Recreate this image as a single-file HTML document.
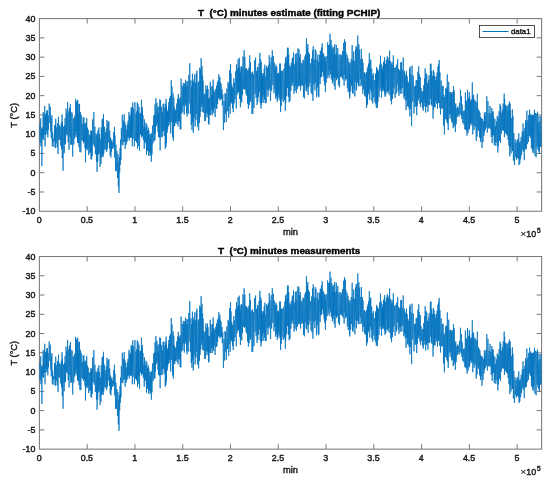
<!DOCTYPE html>
<html><head><meta charset="utf-8"><title>Temperature plots</title>
<style>
html,body{margin:0;padding:0;background:#fff;}
svg{display:block;}
text{font-family:"Liberation Sans",Arial,Helvetica,sans-serif;fill:#1a1a1a;}
.tk{stroke:#7a7a7a;stroke-width:1;}
.yl{font-size:8.2px;text-anchor:end;}
.xl{font-size:8.2px;text-anchor:middle;}
.lab{font-size:9.3px;text-anchor:middle;}
.ex{font-size:8.9px;}
.tt{font-size:9.9px;font-weight:bold;text-anchor:middle;fill:#000;}
.lg{font-size:7.8px;}
text{stroke:#1a1a1a;stroke-width:0.42px;}
.tt{stroke:#000;}
</style></head><body>
<svg width="550" height="481" viewBox="0 0 550 481">
<rect width="550" height="481" fill="#fff"/>
<rect x="39.4" y="18.6" width="502.20000000000005" height="192.65" fill="none" stroke="#7a7a7a" stroke-width="1.05"/>
<text transform="translate(35.4,214.25) scale(1.08,1)" class="yl">-10</text>
<line x1="39.4" y1="191.98" x2="44.4" y2="191.98" class="tk"/>
<line x1="541.6" y1="191.98" x2="536.6" y2="191.98" class="tk"/>
<text transform="translate(35.4,194.98) scale(1.08,1)" class="yl">-5</text>
<line x1="39.4" y1="172.72" x2="44.4" y2="172.72" class="tk"/>
<line x1="541.6" y1="172.72" x2="536.6" y2="172.72" class="tk"/>
<text transform="translate(35.4,175.72) scale(1.08,1)" class="yl">0</text>
<line x1="39.4" y1="153.45" x2="44.4" y2="153.45" class="tk"/>
<line x1="541.6" y1="153.45" x2="536.6" y2="153.45" class="tk"/>
<text transform="translate(35.4,156.45) scale(1.08,1)" class="yl">5</text>
<line x1="39.4" y1="134.19" x2="44.4" y2="134.19" class="tk"/>
<line x1="541.6" y1="134.19" x2="536.6" y2="134.19" class="tk"/>
<text transform="translate(35.4,137.19) scale(1.08,1)" class="yl">10</text>
<line x1="39.4" y1="114.93" x2="44.4" y2="114.93" class="tk"/>
<line x1="541.6" y1="114.93" x2="536.6" y2="114.93" class="tk"/>
<text transform="translate(35.4,117.93) scale(1.08,1)" class="yl">15</text>
<line x1="39.4" y1="95.66" x2="44.4" y2="95.66" class="tk"/>
<line x1="541.6" y1="95.66" x2="536.6" y2="95.66" class="tk"/>
<text transform="translate(35.4,98.66) scale(1.08,1)" class="yl">20</text>
<line x1="39.4" y1="76.40" x2="44.4" y2="76.40" class="tk"/>
<line x1="541.6" y1="76.40" x2="536.6" y2="76.40" class="tk"/>
<text transform="translate(35.4,79.40) scale(1.08,1)" class="yl">25</text>
<line x1="39.4" y1="57.13" x2="44.4" y2="57.13" class="tk"/>
<line x1="541.6" y1="57.13" x2="536.6" y2="57.13" class="tk"/>
<text transform="translate(35.4,60.13) scale(1.08,1)" class="yl">30</text>
<line x1="39.4" y1="37.87" x2="44.4" y2="37.87" class="tk"/>
<line x1="541.6" y1="37.87" x2="536.6" y2="37.87" class="tk"/>
<text transform="translate(35.4,40.87) scale(1.08,1)" class="yl">35</text>
<text transform="translate(35.4,21.60) scale(1.08,1)" class="yl">40</text>
<text transform="translate(39.10,222.75) scale(1.08,1)" class="xl">0</text>
<line x1="87.17" y1="211.25" x2="87.17" y2="206.25" class="tk"/>
<line x1="87.17" y1="18.6" x2="87.17" y2="23.6" class="tk"/>
<text transform="translate(86.87,222.75) scale(1.08,1)" class="xl">0.5</text>
<line x1="134.95" y1="211.25" x2="134.95" y2="206.25" class="tk"/>
<line x1="134.95" y1="18.6" x2="134.95" y2="23.6" class="tk"/>
<text transform="translate(134.65,222.75) scale(1.08,1)" class="xl">1</text>
<line x1="182.72" y1="211.25" x2="182.72" y2="206.25" class="tk"/>
<line x1="182.72" y1="18.6" x2="182.72" y2="23.6" class="tk"/>
<text transform="translate(182.42,222.75) scale(1.08,1)" class="xl">1.5</text>
<line x1="230.50" y1="211.25" x2="230.50" y2="206.25" class="tk"/>
<line x1="230.50" y1="18.6" x2="230.50" y2="23.6" class="tk"/>
<text transform="translate(230.20,222.75) scale(1.08,1)" class="xl">2</text>
<line x1="278.27" y1="211.25" x2="278.27" y2="206.25" class="tk"/>
<line x1="278.27" y1="18.6" x2="278.27" y2="23.6" class="tk"/>
<text transform="translate(277.97,222.75) scale(1.08,1)" class="xl">2.5</text>
<line x1="326.04" y1="211.25" x2="326.04" y2="206.25" class="tk"/>
<line x1="326.04" y1="18.6" x2="326.04" y2="23.6" class="tk"/>
<text transform="translate(325.74,222.75) scale(1.08,1)" class="xl">3</text>
<line x1="373.82" y1="211.25" x2="373.82" y2="206.25" class="tk"/>
<line x1="373.82" y1="18.6" x2="373.82" y2="23.6" class="tk"/>
<text transform="translate(373.52,222.75) scale(1.08,1)" class="xl">3.5</text>
<line x1="421.59" y1="211.25" x2="421.59" y2="206.25" class="tk"/>
<line x1="421.59" y1="18.6" x2="421.59" y2="23.6" class="tk"/>
<text transform="translate(421.29,222.75) scale(1.08,1)" class="xl">4</text>
<line x1="469.37" y1="211.25" x2="469.37" y2="206.25" class="tk"/>
<line x1="469.37" y1="18.6" x2="469.37" y2="23.6" class="tk"/>
<text transform="translate(469.07,222.75) scale(1.08,1)" class="xl">4.5</text>
<line x1="517.14" y1="211.25" x2="517.14" y2="206.25" class="tk"/>
<line x1="517.14" y1="18.6" x2="517.14" y2="23.6" class="tk"/>
<text transform="translate(516.84,222.75) scale(1.08,1)" class="xl">5</text>
<path d="M39.70,124.26 40.11,142.45 40.74,118.31 40.96,146.32 41.59,128.64 41.89,166.02 42.25,127.30 42.82,139.05 43.17,112.22 43.60,139.78 43.75,116.88 44.29,135.00 44.71,105.91 45.02,146.40 45.57,114.42 45.87,134.63 46.24,113.17 46.45,130.72 46.80,110.71 47.05,133.71 47.32,110.20 47.85,137.33 48.14,115.22 48.53,129.61 49.18,103.64 49.82,123.04 50.34,106.72 50.76,131.78 51.04,117.76 51.27,138.31 51.91,115.12 52.32,146.42 52.52,132.34 52.98,141.97 53.53,138.58 53.99,146.96 54.60,125.51 54.76,140.87 55.18,125.23 55.56,148.14 55.73,118.70 56.20,143.44 56.79,127.41 57.24,147.49 57.51,123.11 58.09,154.04 58.49,116.84 58.90,139.59 59.43,125.44 59.65,139.75 60.21,126.54 60.71,145.67 61.26,123.22 61.50,149.38 62.05,114.33 62.29,158.20 62.48,121.39 63.06,170.81 63.65,126.42 64.24,153.18 64.63,125.04 64.91,143.93 65.06,118.30 65.53,144.24 66.05,108.61 66.62,134.09 66.91,113.63 67.16,135.40 67.63,102.08 68.19,142.20 68.83,111.07 69.05,149.62 69.44,107.87 70.05,137.05 70.41,104.03 70.85,144.89 71.00,111.88 71.49,144.36 72.11,112.64 72.68,156.66 73.28,118.83 73.77,144.46 74.03,117.82 74.57,138.52 74.82,115.65 75.40,135.09 75.57,98.88 76.14,137.31 76.36,102.13 76.70,131.39 77.00,100.68 77.50,142.74 77.74,99.86 78.08,140.71 78.22,113.43 78.50,143.12 78.86,104.22 79.06,147.19 79.52,103.83 79.86,151.92 80.38,111.96 80.86,152.33 81.22,114.84 81.81,140.30 82.28,123.86 82.84,141.10 83.16,117.41 83.59,143.10 83.83,117.28 84.49,141.33 84.75,124.34 85.03,147.94 85.20,122.63 85.48,162.58 86.01,123.92 86.52,149.06 86.72,118.03 87.06,150.31 87.42,127.76 87.90,148.19 88.28,129.72 88.73,155.12 89.30,134.56 89.82,153.09 90.15,135.30 90.52,151.87 90.86,130.45 91.05,159.37 91.30,130.68 91.59,159.37 91.89,132.47 92.19,155.96 92.63,119.42 93.28,144.59 93.82,112.03 94.37,146.78 94.91,126.81 95.36,154.13 95.97,133.21 96.47,161.90 96.87,135.49 97.05,171.79 97.45,133.96 97.70,161.55 97.91,130.36 98.31,154.59 98.86,127.43 99.15,153.31 99.69,134.09 100.10,166.96 100.32,139.38 100.96,163.94 101.31,127.47 101.61,157.24 102.19,119.23 102.39,155.59 102.91,118.47 103.15,157.12 103.49,113.94 103.75,153.58 104.33,126.74 104.67,149.20 105.32,132.36 105.79,150.28 106.29,128.59 106.70,151.99 107.00,119.93 107.35,148.93 107.97,122.55 108.22,142.59 108.87,121.16 109.41,148.07 109.73,130.53 110.21,155.59 110.55,137.63 110.88,157.49 111.29,140.97 111.43,151.68 111.83,139.60 112.48,148.89 112.77,142.63 113.29,146.20 113.66,132.09 113.91,148.31 114.52,126.93 114.67,157.43 114.97,135.53 115.63,171.19 115.91,144.77 116.49,170.58 116.94,151.13 117.50,178.03 117.97,154.18 118.30,186.60 118.83,161.60 118.99,192.89 119.36,157.20 119.69,172.41 120.08,148.05 120.29,164.87 120.54,139.52 120.98,159.80 121.32,128.18 121.87,144.69 122.32,114.90 122.91,145.27 123.43,120.63 123.89,142.09 124.18,114.17 124.72,141.55 124.99,122.53 125.17,148.88 125.81,125.12 126.23,144.72 126.78,129.63 127.19,141.65 127.65,124.46 127.81,137.91 128.04,120.86 128.53,137.48 128.97,111.97 129.19,140.48 129.83,114.76 130.05,137.46 130.45,116.19 130.67,137.94 131.18,107.57 131.47,137.41 131.68,109.61 131.84,133.76 132.07,107.08 132.31,146.34 132.73,102.51 133.10,138.89 133.74,108.51 134.38,146.36 134.93,102.17 135.42,140.95 136.00,113.88 136.63,142.58 136.78,111.38 136.98,141.59 137.31,102.47 137.50,148.91 137.95,103.79 138.23,146.23 138.50,112.25 138.79,138.10 138.98,106.87 139.51,150.92 139.99,113.68 140.44,134.50 140.60,112.94 140.96,134.57 141.46,99.82 141.68,137.48 142.02,110.55 142.17,135.53 142.35,107.25 142.61,136.10 142.96,115.11 143.34,140.05 143.94,126.48 144.25,148.67 144.40,119.41 144.97,143.17 145.14,127.49 145.33,141.97 145.97,122.75 146.50,154.81 146.82,124.61 147.03,151.15 147.37,129.99 147.68,150.54 148.28,127.54 148.64,155.98 148.82,130.75 149.44,152.32 149.90,134.00 150.11,155.77 150.30,138.45 150.69,153.84 150.87,134.08 151.34,161.86 151.80,132.87 151.96,154.51 152.52,125.59 153.07,143.25 153.69,115.50 154.17,141.11 154.67,114.63 154.90,140.36 155.05,104.38 155.23,133.70 155.87,98.27 156.34,126.14 156.98,102.88 157.30,123.75 157.83,107.36 158.00,131.98 158.23,113.65 158.51,137.01 158.94,106.37 159.37,137.66 159.77,99.37 160.13,150.32 160.57,100.23 161.21,137.20 161.59,107.10 162.17,137.07 162.34,112.55 162.68,131.55 163.11,104.23 163.57,130.60 163.84,103.60 164.19,136.02 164.82,107.80 165.30,148.84 165.74,103.86 165.92,147.04 166.08,98.81 166.33,143.37 166.54,106.75 167.20,132.70 167.34,110.54 167.67,129.05 167.84,112.20 168.31,126.33 168.47,106.50 168.65,121.68 168.83,102.07 169.11,124.82 169.55,98.17 170.11,121.79 170.39,95.98 170.68,133.67 171.25,80.14 171.77,122.08 171.98,86.57 172.54,137.37 173.11,93.59 173.34,140.63 173.81,97.71 174.05,125.81 174.32,107.43 174.72,126.20 175.13,109.51 175.52,122.98 175.94,109.86 176.19,121.68 176.73,103.45 177.02,124.03 177.63,98.72 178.04,126.36 178.34,93.96 178.57,121.00 178.96,98.21 179.30,121.45 179.76,99.85 180.16,129.10 180.32,97.20 180.89,129.60 181.06,78.57 181.63,113.60 182.19,85.98 182.81,112.36 183.30,82.96 183.52,105.54 183.89,86.22 184.26,114.72 184.73,83.32 185.07,105.93 185.56,79.77 185.81,103.72 186.13,81.49 186.55,113.19 186.91,86.05 187.12,116.48 187.76,81.20 188.26,113.62 188.83,75.06 189.16,103.53 189.79,63.19 190.35,113.98 191.00,80.46 191.24,124.95 191.63,86.64 191.97,129.91 192.43,73.75 192.70,121.95 192.89,79.17 193.28,132.76 193.75,81.50 194.09,117.62 194.75,74.43 195.10,126.51 195.40,82.57 195.96,119.86 196.34,73.39 196.62,113.73 196.91,70.65 197.54,126.58 198.18,82.45 198.66,130.47 198.95,81.29 199.46,122.88 199.71,67.79 200.02,117.14 200.44,69.49 200.79,111.68 201.11,58.31 201.76,106.95 201.98,65.99 202.44,104.08 202.60,75.53 202.79,111.97 203.04,80.70 203.70,112.72 204.21,93.99 204.80,121.15 204.97,93.66 205.46,120.74 205.83,85.46 206.19,113.08 206.70,89.41 207.00,117.27 207.41,85.62 207.68,113.72 208.02,89.18 208.44,123.51 208.66,98.62 208.95,124.57 209.31,97.96 209.69,114.97 210.25,81.81 210.72,115.24 211.16,86.40 211.75,110.52 211.99,95.21 212.18,115.16 212.53,86.58 212.74,109.83 213.17,79.66 213.61,113.15 213.82,90.33 214.33,108.13 214.76,91.74 215.12,117.10 215.73,88.86 216.32,108.94 216.57,85.62 216.80,108.49 217.42,82.14 217.64,103.98 218.17,80.28 218.48,98.67 218.80,74.30 219.23,97.88 219.85,76.87 219.99,100.39 220.22,81.86 220.73,99.20 221.08,83.81 221.37,98.90 222.01,89.09 222.29,105.29 222.80,94.40 223.44,130.11 223.98,101.11 224.48,122.67 225.00,93.16 225.56,113.70 225.84,94.04 226.31,122.00 226.86,88.50 227.47,111.14 228.08,81.94 228.69,117.83 228.88,83.34 229.21,106.01 229.59,70.32 230.19,113.83 230.55,64.22 230.83,103.04 230.98,73.33 231.27,101.56 231.82,84.38 231.97,103.67 232.19,87.14 232.49,108.26 232.91,87.95 233.24,112.18 233.84,78.28 234.09,103.32 234.52,82.50 235.06,99.57 235.69,71.32 236.28,108.54 236.49,64.40 237.04,94.99 237.53,68.72 237.89,91.98 238.05,59.26 238.27,92.80 238.80,67.31 238.99,89.81 239.29,57.79 239.56,98.95 240.09,67.85 240.42,107.14 240.60,72.46 240.93,100.05 241.24,65.98 241.76,102.50 242.06,66.77 242.56,95.10 242.98,56.44 243.59,88.79 244.11,50.35 244.46,89.78 244.85,56.95 245.24,88.81 245.83,68.08 246.04,93.77 246.40,68.31 246.82,95.88 247.19,69.78 247.64,103.67 248.04,70.94 248.39,108.78 248.89,67.75 249.20,105.27 249.66,55.32 250.18,101.83 250.38,62.11 250.69,101.11 251.33,72.57 251.97,113.97 252.62,71.60 252.79,113.84 253.36,74.20 253.98,108.02 254.59,60.32 255.10,93.84 255.59,57.64 256.11,97.89 256.55,70.82 257.10,105.03 257.50,67.08 257.76,101.75 257.94,67.52 258.56,96.88 259.09,63.29 259.32,91.99 259.89,52.92 260.19,102.72 260.66,59.28 260.98,108.53 261.23,61.97 261.46,104.90 261.64,73.48 261.82,102.63 262.00,73.36 262.18,97.84 262.76,76.59 263.17,102.87 263.37,73.28 263.78,95.06 264.21,68.38 264.61,99.69 264.85,64.68 265.22,103.24 265.81,76.67 266.15,102.97 266.55,66.33 267.18,89.79 267.44,67.62 267.96,96.60 268.35,65.03 268.90,90.64 269.22,55.16 269.65,88.34 269.98,62.54 270.57,101.07 271.18,57.31 271.65,90.68 272.30,50.25 272.82,85.09 273.39,55.86 274.00,93.38 274.28,62.64 274.93,89.09 275.28,67.48 275.68,98.84 275.91,64.72 276.48,96.45 276.79,66.82 277.29,101.85 277.54,73.36 277.87,99.78 278.21,74.92 278.47,93.90 278.63,72.82 279.17,97.79 279.80,63.57 280.06,100.56 280.28,63.57 280.60,112.13 280.79,70.48 281.27,105.85 281.60,71.03 282.03,99.24 282.64,70.78 283.23,101.94 283.85,68.82 284.47,100.20 284.92,63.51 285.32,110.84 285.48,57.35 285.68,103.04 286.09,59.69 286.67,96.25 287.04,55.63 287.18,87.84 287.43,47.76 287.97,88.01 288.19,47.76 288.43,96.89 288.72,54.31 289.18,102.38 289.75,65.39 290.01,100.72 290.46,66.89 290.87,90.68 291.24,62.96 291.69,85.28 292.25,58.62 292.50,82.34 292.90,57.40 293.09,86.03 293.50,52.48 294.05,93.71 294.71,64.47 295.10,90.76 295.39,53.90 295.83,86.46 296.17,61.83 296.37,93.03 296.78,53.25 297.33,89.13 297.94,48.38 298.59,86.22 298.92,49.27 299.19,86.38 299.39,57.11 299.75,83.73 300.31,54.09 300.57,90.54 301.16,62.80 301.67,85.60 301.91,63.66 302.38,85.40 302.95,59.89 303.57,97.02 303.80,60.24 304.36,98.41 304.91,56.56 305.17,84.31 305.47,54.28 306.10,90.54 306.43,38.44 306.72,91.49 307.24,47.98 307.45,87.27 307.84,44.06 308.16,95.00 308.59,52.30 309.04,86.52 309.51,54.08 309.88,82.82 310.48,63.45 311.05,92.57 311.68,58.50 312.05,94.45 312.57,50.41 312.93,100.85 313.22,46.38 313.70,84.37 314.33,59.62 314.89,90.27 315.18,49.11 315.44,82.73 315.98,51.02 316.48,97.34 317.07,59.61 317.29,87.33 317.88,54.51 318.24,95.84 318.52,61.91 318.84,97.25 319.50,54.90 320.14,84.14 320.32,50.76 320.62,77.77 321.14,51.51 321.30,76.42 321.45,47.65 321.62,76.38 322.21,43.39 322.52,71.63 322.83,52.57 323.38,76.45 323.69,54.05 324.21,81.57 324.54,56.66 324.84,85.22 325.18,56.62 325.41,91.92 325.59,61.00 326.18,82.56 326.77,56.26 327.15,78.41 327.65,42.36 328.24,75.12 328.58,45.17 329.09,77.68 329.62,44.55 329.80,70.92 330.01,33.71 330.54,74.50 331.05,39.89 331.29,79.26 331.86,45.52 332.41,83.42 332.73,48.34 333.04,81.07 333.24,53.39 333.61,77.28 333.81,47.11 334.23,85.83 334.70,44.11 335.14,89.79 335.32,54.33 335.78,77.53 336.31,44.83 336.53,80.15 336.98,53.28 337.54,78.25 337.78,47.99 338.40,85.32 339.04,54.67 339.55,87.27 340.15,54.28 340.43,76.83 340.91,57.11 341.53,76.45 341.70,54.83 342.26,78.06 342.53,51.32 343.08,79.64 343.56,42.86 344.12,85.73 344.46,39.26 344.84,74.70 345.46,41.75 345.64,80.53 345.86,51.93 346.50,78.97 347.12,54.83 347.33,88.32 347.98,58.02 348.26,92.12 348.86,61.68 349.47,96.12 349.62,64.72 349.77,98.47 350.08,62.72 350.70,91.40 351.26,59.23 351.60,86.06 352.18,44.99 352.48,92.55 352.80,60.08 353.04,93.97 353.68,51.59 354.24,89.34 354.62,61.00 354.90,96.35 355.54,49.63 355.89,81.90 356.14,45.92 356.50,90.35 357.01,47.75 357.55,83.14 357.75,35.55 358.38,86.11 358.87,44.35 359.04,86.26 359.62,49.71 360.26,79.37 360.84,58.93 360.98,86.23 361.37,49.10 361.82,85.11 362.42,59.12 362.82,93.81 363.00,62.61 363.63,89.11 364.26,72.10 364.65,95.59 364.82,73.32 365.40,96.70 365.92,73.75 366.57,107.98 366.71,72.03 367.08,105.31 367.37,68.28 367.56,103.51 368.08,66.25 368.40,91.89 368.56,63.53 368.77,94.30 369.33,53.12 369.79,99.64 370.04,61.21 370.54,89.10 370.75,59.70 371.24,92.41 371.72,68.67 371.86,100.68 372.27,75.28 372.78,103.53 373.32,73.30 373.83,97.52 374.43,80.14 374.96,102.23 375.58,73.47 375.93,104.51 376.09,74.81 376.33,107.77 376.62,67.02 376.78,99.51 376.97,70.89 377.38,108.12 377.65,68.88 377.94,102.24 378.47,70.91 379.05,97.04 379.64,64.73 379.97,88.83 380.48,55.69 381.07,91.12 381.29,63.68 381.53,97.89 382.01,68.63 382.28,91.14 382.52,70.41 382.86,87.19 383.00,66.10 383.37,90.46 383.54,61.80 383.80,87.75 384.06,62.47 384.37,92.66 384.57,57.25 384.96,96.84 385.46,63.87 385.77,95.24 386.39,59.67 386.98,92.11 387.28,56.27 387.44,91.27 387.98,57.72 388.25,93.64 388.56,60.40 389.00,90.06 389.66,50.63 389.95,95.30 390.34,60.89 390.80,100.86 391.30,64.53 391.55,104.27 392.00,61.94 392.42,99.18 392.90,64.99 393.10,94.23 393.31,55.34 393.96,88.22 394.52,67.94 395.10,97.86 395.72,66.92 396.36,93.70 396.70,64.58 397.24,84.57 397.71,59.16 398.14,91.63 398.64,68.77 398.94,95.86 399.53,70.28 399.88,89.24 400.10,71.05 400.24,93.88 400.72,62.30 400.98,88.67 401.61,62.16 401.86,93.64 402.16,69.77 402.81,87.88 403.22,57.50 403.84,98.15 404.39,70.82 404.59,95.77 404.84,73.52 405.18,100.39 405.78,75.48 406.09,110.03 406.48,70.80 406.87,99.97 407.17,76.39 407.72,106.07 407.89,81.26 408.15,106.93 408.72,82.95 409.18,109.35 409.59,68.69 409.92,116.48 410.13,66.65 410.50,108.87 411.16,74.65 411.61,126.21 412.05,65.74 412.70,101.57 413.30,75.61 413.96,113.44 414.60,86.41 415.08,106.77 415.38,85.59 415.85,106.50 416.17,80.08 416.73,115.21 416.94,79.96 417.32,105.91 417.90,71.77 418.28,100.50 418.73,66.32 418.92,97.84 419.21,74.28 419.84,103.56 420.33,77.22 420.66,106.85 421.06,88.18 421.61,102.66 422.16,91.55 422.73,108.17 423.02,90.93 423.28,110.76 423.75,85.17 424.17,102.52 424.60,78.24 424.85,106.65 425.16,68.43 425.69,112.60 426.02,73.27 426.55,106.99 426.72,74.52 427.35,105.23 427.60,83.08 427.99,111.79 428.61,79.83 428.88,105.04 429.14,75.36 429.79,104.75 430.40,63.81 430.81,98.88 430.99,63.81 431.44,104.21 431.71,71.03 431.96,105.96 432.59,76.03 433.05,118.68 433.42,70.01 433.59,109.45 433.93,72.25 434.52,106.91 434.81,75.97 435.12,107.48 435.58,80.18 435.85,100.82 436.28,76.66 436.82,103.75 437.11,72.70 437.49,108.75 437.93,66.64 438.26,102.88 438.52,64.49 438.72,102.97 439.15,59.98 439.78,107.88 439.93,72.19 440.52,114.56 441.16,80.41 441.58,108.28 442.22,85.98 442.73,108.50 443.15,85.86 443.53,125.44 443.92,95.03 444.41,134.35 444.67,97.01 445.19,118.86 445.58,88.47 446.07,119.59 446.70,87.55 446.96,122.16 447.31,74.47 447.60,123.48 447.76,89.62 448.23,130.05 448.69,81.88 449.35,114.50 449.81,91.96 450.15,118.90 450.76,92.05 450.91,113.60 451.21,94.09 451.74,122.55 451.96,92.49 452.29,121.80 452.87,92.11 453.19,128.18 453.46,86.32 454.06,126.47 454.24,90.42 454.82,124.53 455.13,105.05 455.38,132.08 455.77,103.47 456.16,124.19 456.80,108.31 457.33,117.17 457.71,106.50 458.14,114.87 458.45,108.05 459.10,116.59 459.44,102.96 460.04,114.01 460.52,89.84 461.14,115.63 461.46,96.40 461.82,118.94 462.15,104.61 462.72,123.02 463.36,110.95 463.93,124.60 464.30,110.57 464.87,129.29 465.39,92.55 465.80,129.62 466.04,100.36 466.30,130.52 466.81,101.10 467.05,135.69 467.48,89.99 468.04,132.96 468.52,98.31 468.98,129.48 469.25,92.04 469.45,128.84 469.61,96.12 469.78,126.73 470.04,99.65 470.47,123.55 470.83,101.73 471.07,121.69 471.37,99.59 471.75,125.08 472.31,82.35 472.79,134.38 472.95,95.92 473.34,125.15 473.58,94.66 474.16,129.92 474.76,99.77 475.19,126.90 475.71,101.31 476.21,140.70 476.77,102.44 477.06,136.69 477.32,93.77 477.85,129.57 478.48,109.30 478.74,130.96 479.18,110.89 479.60,137.48 479.94,112.70 480.47,142.10 480.67,117.09 481.01,138.53 481.37,118.37 482.01,147.82 482.50,118.91 483.01,142.09 483.67,121.01 483.93,135.79 484.38,112.45 484.58,131.97 484.81,115.73 485.31,129.95 485.88,112.16 486.35,127.76 486.79,96.17 487.34,132.64 487.98,101.12 488.60,128.46 489.16,113.02 489.52,127.69 490.06,105.94 490.32,129.18 490.93,113.64 491.22,137.03 491.87,108.07 492.17,143.05 492.44,112.02 492.76,134.72 493.15,111.30 493.39,135.35 493.67,117.26 494.27,145.23 494.90,118.96 495.12,142.02 495.49,125.99 495.84,146.01 496.42,121.41 496.90,142.36 497.25,115.81 497.80,152.49 498.26,117.63 498.50,146.52 499.06,111.32 499.44,140.71 500.04,103.77 500.53,143.06 500.74,106.13 501.28,133.66 501.72,112.88 502.14,130.35 502.50,109.71 502.98,130.59 503.16,103.52 503.56,130.41 504.19,93.66 504.43,137.10 504.64,98.86 505.00,131.71 505.41,104.82 505.74,133.43 506.14,105.45 506.63,134.67 507.18,106.17 507.35,135.59 507.68,110.66 508.15,140.08 508.30,104.52 508.93,145.99 509.40,101.48 509.80,156.32 510.17,103.49 510.39,147.63 510.56,110.35 511.05,153.55 511.67,118.21 512.23,150.57 512.38,109.37 512.54,151.11 512.94,115.81 513.38,160.57 513.84,132.99 514.43,165.08 515.04,139.37 515.69,157.04 516.01,142.33 516.39,159.66 517.05,140.12 517.55,158.10 517.72,139.01 518.34,158.74 518.80,133.43 519.04,165.14 519.36,142.63 519.80,163.44 520.28,141.40 520.63,159.28 521.16,136.87 521.58,155.13 522.22,131.68 522.81,149.72 523.02,123.35 523.22,151.65 523.80,130.96 524.26,160.11 524.90,127.92 525.27,148.44 525.50,120.32 525.66,149.58 526.20,122.29 526.39,148.73 526.86,110.68 527.29,144.13 527.82,119.99 528.45,142.00 528.71,114.93 529.10,135.85 529.64,109.66 529.88,135.21 530.07,115.80 530.28,137.96 530.90,113.78 531.45,148.44 531.70,115.04 531.85,142.33 532.32,115.45 532.63,151.29 532.89,115.20 533.13,153.03 533.51,114.67 533.83,148.67 534.46,109.84 534.90,155.71 535.50,113.02 536.12,157.39 536.73,113.55 537.13,146.52 537.57,111.67 537.99,149.45 538.14,122.87 538.78,151.47 538.99,116.00 539.42,153.85 539.92,121.15 540.47,146.80 540.89,115.90 541.36,146.67" fill="none" stroke="#0072BD" stroke-width="0.75" stroke-opacity="1" stroke-linejoin="round"/>
<text x="290.5" y="234.75" class="lab">min</text>
<text x="520.6" y="236.85" class="ex"><tspan font-size="9.8" style="stroke-width:0.15px">×</tspan>10<tspan dx="0.9" dy="-3.9" font-size="6.6">5</tspan></text>
<text x="0" y="0" class="lab" transform="translate(17.0,115.27) rotate(-90)">T (°C)</text>
<text x="289.2" y="16.10" class="tt">T&#160;&#160;(°C) minutes estimate (fitting PCHIP)</text>
<rect x="479.5" y="25.400000000000002" width="55.0" height="12.2" fill="#fff" stroke="#262626" stroke-width="0.8"/>
<line x1="482.5" y1="31.50" x2="508.5" y2="31.50" stroke="#0072BD" stroke-width="1"/>
<text x="511" y="34.40" class="lg">data1</text>
<rect x="39.4" y="256.5" width="502.20000000000005" height="192.64999999999998" fill="none" stroke="#7a7a7a" stroke-width="1.05"/>
<text transform="translate(35.4,452.15) scale(1.08,1)" class="yl">-10</text>
<line x1="39.4" y1="429.88" x2="44.4" y2="429.88" class="tk"/>
<line x1="541.6" y1="429.88" x2="536.6" y2="429.88" class="tk"/>
<text transform="translate(35.4,432.88) scale(1.08,1)" class="yl">-5</text>
<line x1="39.4" y1="410.62" x2="44.4" y2="410.62" class="tk"/>
<line x1="541.6" y1="410.62" x2="536.6" y2="410.62" class="tk"/>
<text transform="translate(35.4,413.62) scale(1.08,1)" class="yl">0</text>
<line x1="39.4" y1="391.36" x2="44.4" y2="391.36" class="tk"/>
<line x1="541.6" y1="391.36" x2="536.6" y2="391.36" class="tk"/>
<text transform="translate(35.4,394.36) scale(1.08,1)" class="yl">5</text>
<line x1="39.4" y1="372.09" x2="44.4" y2="372.09" class="tk"/>
<line x1="541.6" y1="372.09" x2="536.6" y2="372.09" class="tk"/>
<text transform="translate(35.4,375.09) scale(1.08,1)" class="yl">10</text>
<line x1="39.4" y1="352.82" x2="44.4" y2="352.82" class="tk"/>
<line x1="541.6" y1="352.82" x2="536.6" y2="352.82" class="tk"/>
<text transform="translate(35.4,355.82) scale(1.08,1)" class="yl">15</text>
<line x1="39.4" y1="333.56" x2="44.4" y2="333.56" class="tk"/>
<line x1="541.6" y1="333.56" x2="536.6" y2="333.56" class="tk"/>
<text transform="translate(35.4,336.56) scale(1.08,1)" class="yl">20</text>
<line x1="39.4" y1="314.29" x2="44.4" y2="314.29" class="tk"/>
<line x1="541.6" y1="314.29" x2="536.6" y2="314.29" class="tk"/>
<text transform="translate(35.4,317.29) scale(1.08,1)" class="yl">25</text>
<line x1="39.4" y1="295.03" x2="44.4" y2="295.03" class="tk"/>
<line x1="541.6" y1="295.03" x2="536.6" y2="295.03" class="tk"/>
<text transform="translate(35.4,298.03) scale(1.08,1)" class="yl">30</text>
<line x1="39.4" y1="275.76" x2="44.4" y2="275.76" class="tk"/>
<line x1="541.6" y1="275.76" x2="536.6" y2="275.76" class="tk"/>
<text transform="translate(35.4,278.76) scale(1.08,1)" class="yl">35</text>
<text transform="translate(35.4,259.50) scale(1.08,1)" class="yl">40</text>
<text transform="translate(39.10,460.65) scale(1.08,1)" class="xl">0</text>
<line x1="87.17" y1="449.15" x2="87.17" y2="444.15" class="tk"/>
<line x1="87.17" y1="256.5" x2="87.17" y2="261.5" class="tk"/>
<text transform="translate(86.87,460.65) scale(1.08,1)" class="xl">0.5</text>
<line x1="134.95" y1="449.15" x2="134.95" y2="444.15" class="tk"/>
<line x1="134.95" y1="256.5" x2="134.95" y2="261.5" class="tk"/>
<text transform="translate(134.65,460.65) scale(1.08,1)" class="xl">1</text>
<line x1="182.72" y1="449.15" x2="182.72" y2="444.15" class="tk"/>
<line x1="182.72" y1="256.5" x2="182.72" y2="261.5" class="tk"/>
<text transform="translate(182.42,460.65) scale(1.08,1)" class="xl">1.5</text>
<line x1="230.50" y1="449.15" x2="230.50" y2="444.15" class="tk"/>
<line x1="230.50" y1="256.5" x2="230.50" y2="261.5" class="tk"/>
<text transform="translate(230.20,460.65) scale(1.08,1)" class="xl">2</text>
<line x1="278.27" y1="449.15" x2="278.27" y2="444.15" class="tk"/>
<line x1="278.27" y1="256.5" x2="278.27" y2="261.5" class="tk"/>
<text transform="translate(277.97,460.65) scale(1.08,1)" class="xl">2.5</text>
<line x1="326.04" y1="449.15" x2="326.04" y2="444.15" class="tk"/>
<line x1="326.04" y1="256.5" x2="326.04" y2="261.5" class="tk"/>
<text transform="translate(325.74,460.65) scale(1.08,1)" class="xl">3</text>
<line x1="373.82" y1="449.15" x2="373.82" y2="444.15" class="tk"/>
<line x1="373.82" y1="256.5" x2="373.82" y2="261.5" class="tk"/>
<text transform="translate(373.52,460.65) scale(1.08,1)" class="xl">3.5</text>
<line x1="421.59" y1="449.15" x2="421.59" y2="444.15" class="tk"/>
<line x1="421.59" y1="256.5" x2="421.59" y2="261.5" class="tk"/>
<text transform="translate(421.29,460.65) scale(1.08,1)" class="xl">4</text>
<line x1="469.37" y1="449.15" x2="469.37" y2="444.15" class="tk"/>
<line x1="469.37" y1="256.5" x2="469.37" y2="261.5" class="tk"/>
<text transform="translate(469.07,460.65) scale(1.08,1)" class="xl">4.5</text>
<line x1="517.14" y1="449.15" x2="517.14" y2="444.15" class="tk"/>
<line x1="517.14" y1="256.5" x2="517.14" y2="261.5" class="tk"/>
<text transform="translate(516.84,460.65) scale(1.08,1)" class="xl">5</text>
<path d="M39.70,362.16 40.11,380.35 40.74,356.21 40.96,384.22 41.59,366.54 41.89,403.92 42.25,365.20 42.82,376.95 43.17,350.12 43.60,377.68 43.75,354.78 44.29,372.90 44.71,343.81 45.02,384.30 45.57,352.32 45.87,372.53 46.24,351.07 46.45,368.62 46.80,348.61 47.05,371.61 47.32,348.10 47.85,375.23 48.14,353.12 48.53,367.51 49.18,341.54 49.82,360.94 50.34,344.62 50.76,369.68 51.04,355.66 51.27,376.21 51.91,353.02 52.32,384.32 52.52,370.24 52.98,379.87 53.53,376.48 53.99,384.86 54.60,363.41 54.76,378.77 55.18,363.13 55.56,386.04 55.73,356.60 56.20,381.34 56.79,365.31 57.24,385.39 57.51,361.01 58.09,391.94 58.49,354.74 58.90,377.49 59.43,363.34 59.65,377.65 60.21,364.44 60.71,383.57 61.26,361.12 61.50,387.28 62.05,352.23 62.29,396.10 62.48,359.29 63.06,408.71 63.65,364.32 64.24,391.08 64.63,362.94 64.91,381.83 65.06,356.20 65.53,382.14 66.05,346.51 66.62,371.99 66.91,351.53 67.16,373.30 67.63,339.98 68.19,380.10 68.83,348.97 69.05,387.52 69.44,345.77 70.05,374.95 70.41,341.93 70.85,382.79 71.00,349.78 71.49,382.26 72.11,350.54 72.68,394.56 73.28,356.73 73.77,382.36 74.03,355.72 74.57,376.42 74.82,353.55 75.40,372.99 75.57,336.78 76.14,375.21 76.36,340.03 76.70,369.29 77.00,338.58 77.50,380.64 77.74,337.76 78.08,378.61 78.22,351.33 78.50,381.02 78.86,342.12 79.06,385.09 79.52,341.73 79.86,389.82 80.38,349.86 80.86,390.23 81.22,352.74 81.81,378.20 82.28,361.76 82.84,379.00 83.16,355.31 83.59,381.00 83.83,355.18 84.49,379.23 84.75,362.24 85.03,385.84 85.20,360.53 85.48,400.48 86.01,361.82 86.52,386.96 86.72,355.93 87.06,388.21 87.42,365.66 87.90,386.09 88.28,367.62 88.73,393.02 89.30,372.46 89.82,390.99 90.15,373.20 90.52,389.77 90.86,368.35 91.05,397.27 91.30,368.58 91.59,397.27 91.89,370.37 92.19,393.86 92.63,357.32 93.28,382.49 93.82,349.93 94.37,384.68 94.91,364.71 95.36,392.03 95.97,371.11 96.47,399.80 96.87,373.39 97.05,409.69 97.45,371.86 97.70,399.45 97.91,368.26 98.31,392.49 98.86,365.33 99.15,391.21 99.69,371.99 100.10,404.86 100.32,377.28 100.96,401.84 101.31,365.37 101.61,395.14 102.19,357.13 102.39,393.49 102.91,356.37 103.15,395.02 103.49,351.84 103.75,391.48 104.33,364.64 104.67,387.10 105.32,370.26 105.79,388.18 106.29,366.49 106.70,389.89 107.00,357.83 107.35,386.83 107.97,360.45 108.22,380.49 108.87,359.06 109.41,385.97 109.73,368.43 110.21,393.49 110.55,375.53 110.88,395.39 111.29,378.87 111.43,389.58 111.83,377.50 112.48,386.79 112.77,380.53 113.29,384.10 113.66,369.99 113.91,386.21 114.52,364.83 114.67,395.33 114.97,373.43 115.63,409.09 115.91,382.67 116.49,408.48 116.94,389.03 117.50,415.93 117.97,392.08 118.30,424.50 118.83,399.50 118.99,430.79 119.36,395.10 119.69,410.31 120.08,385.95 120.29,402.77 120.54,377.42 120.98,397.70 121.32,366.08 121.87,382.59 122.32,352.80 122.91,383.17 123.43,358.53 123.89,379.99 124.18,352.07 124.72,379.45 124.99,360.43 125.17,386.78 125.81,363.02 126.23,382.62 126.78,367.53 127.19,379.55 127.65,362.36 127.81,375.81 128.04,358.76 128.53,375.38 128.97,349.87 129.19,378.38 129.83,352.66 130.05,375.36 130.45,354.09 130.67,375.84 131.18,345.47 131.47,375.31 131.68,347.51 131.84,371.66 132.07,344.98 132.31,384.24 132.73,340.41 133.10,376.79 133.74,346.41 134.38,384.26 134.93,340.07 135.42,378.85 136.00,351.78 136.63,380.48 136.78,349.28 136.98,379.49 137.31,340.37 137.50,386.81 137.95,341.69 138.23,384.13 138.50,350.15 138.79,376.00 138.98,344.77 139.51,388.82 139.99,351.58 140.44,372.40 140.60,350.84 140.96,372.47 141.46,337.72 141.68,375.38 142.02,348.45 142.17,373.43 142.35,345.15 142.61,374.00 142.96,353.01 143.34,377.95 143.94,364.38 144.25,386.57 144.40,357.31 144.97,381.07 145.14,365.39 145.33,379.87 145.97,360.65 146.50,392.71 146.82,362.51 147.03,389.05 147.37,367.89 147.68,388.44 148.28,365.44 148.64,393.88 148.82,368.65 149.44,390.22 149.90,371.90 150.11,393.67 150.30,376.35 150.69,391.74 150.87,371.98 151.34,399.76 151.80,370.77 151.96,392.41 152.52,363.49 153.07,381.15 153.69,353.40 154.17,379.01 154.67,352.53 154.90,378.26 155.05,342.28 155.23,371.60 155.87,336.17 156.34,364.04 156.98,340.78 157.30,361.65 157.83,345.26 158.00,369.88 158.23,351.55 158.51,374.91 158.94,344.27 159.37,375.56 159.77,337.27 160.13,388.22 160.57,338.13 161.21,375.10 161.59,345.00 162.17,374.97 162.34,350.45 162.68,369.45 163.11,342.13 163.57,368.50 163.84,341.50 164.19,373.92 164.82,345.70 165.30,386.74 165.74,341.76 165.92,384.94 166.08,336.71 166.33,381.27 166.54,344.65 167.20,370.60 167.34,348.44 167.67,366.95 167.84,350.10 168.31,364.23 168.47,344.40 168.65,359.58 168.83,339.97 169.11,362.72 169.55,336.07 170.11,359.69 170.39,333.88 170.68,371.57 171.25,318.04 171.77,359.98 171.98,324.47 172.54,375.27 173.11,331.49 173.34,378.53 173.81,335.61 174.05,363.71 174.32,345.33 174.72,364.10 175.13,347.41 175.52,360.88 175.94,347.76 176.19,359.58 176.73,341.35 177.02,361.93 177.63,336.62 178.04,364.26 178.34,331.86 178.57,358.90 178.96,336.11 179.30,359.35 179.76,337.75 180.16,367.00 180.32,335.10 180.89,367.50 181.06,316.47 181.63,351.50 182.19,323.88 182.81,350.26 183.30,320.86 183.52,343.44 183.89,324.12 184.26,352.62 184.73,321.22 185.07,343.83 185.56,317.67 185.81,341.62 186.13,319.39 186.55,351.09 186.91,323.95 187.12,354.38 187.76,319.10 188.26,351.52 188.83,312.96 189.16,341.43 189.79,301.09 190.35,351.88 191.00,318.36 191.24,362.85 191.63,324.54 191.97,367.81 192.43,311.65 192.70,359.85 192.89,317.07 193.28,370.66 193.75,319.40 194.09,355.52 194.75,312.33 195.10,364.41 195.40,320.47 195.96,357.76 196.34,311.29 196.62,351.63 196.91,308.55 197.54,364.48 198.18,320.35 198.66,368.37 198.95,319.19 199.46,360.78 199.71,305.69 200.02,355.04 200.44,307.39 200.79,349.58 201.11,296.21 201.76,344.85 201.98,303.89 202.44,341.98 202.60,313.43 202.79,349.87 203.04,318.60 203.70,350.62 204.21,331.89 204.80,359.05 204.97,331.56 205.46,358.64 205.83,323.36 206.19,350.98 206.70,327.31 207.00,355.17 207.41,323.52 207.68,351.62 208.02,327.08 208.44,361.41 208.66,336.52 208.95,362.47 209.31,335.86 209.69,352.87 210.25,319.71 210.72,353.14 211.16,324.30 211.75,348.42 211.99,333.11 212.18,353.06 212.53,324.48 212.74,347.73 213.17,317.56 213.61,351.05 213.82,328.23 214.33,346.03 214.76,329.64 215.12,355.00 215.73,326.76 216.32,346.84 216.57,323.52 216.80,346.39 217.42,320.04 217.64,341.88 218.17,318.18 218.48,336.57 218.80,312.20 219.23,335.78 219.85,314.77 219.99,338.29 220.22,319.76 220.73,337.10 221.08,321.71 221.37,336.80 222.01,326.99 222.29,343.19 222.80,332.30 223.44,368.01 223.98,339.01 224.48,360.57 225.00,331.06 225.56,351.60 225.84,331.94 226.31,359.90 226.86,326.40 227.47,349.04 228.08,319.84 228.69,355.73 228.88,321.24 229.21,343.91 229.59,308.22 230.19,351.73 230.55,302.12 230.83,340.94 230.98,311.23 231.27,339.46 231.82,322.28 231.97,341.57 232.19,325.04 232.49,346.16 232.91,325.85 233.24,350.08 233.84,316.18 234.09,341.22 234.52,320.40 235.06,337.47 235.69,309.22 236.28,346.44 236.49,302.30 237.04,332.89 237.53,306.62 237.89,329.88 238.05,297.16 238.27,330.70 238.80,305.21 238.99,327.71 239.29,295.69 239.56,336.85 240.09,305.75 240.42,345.04 240.60,310.36 240.93,337.95 241.24,303.88 241.76,340.40 242.06,304.67 242.56,333.00 242.98,294.34 243.59,326.69 244.11,288.25 244.46,327.68 244.85,294.85 245.24,326.71 245.83,305.98 246.04,331.67 246.40,306.21 246.82,333.78 247.19,307.68 247.64,341.57 248.04,308.84 248.39,346.68 248.89,305.65 249.20,343.17 249.66,293.22 250.18,339.73 250.38,300.01 250.69,339.01 251.33,310.47 251.97,351.87 252.62,309.50 252.79,351.74 253.36,312.10 253.98,345.92 254.59,298.22 255.10,331.74 255.59,295.54 256.11,335.79 256.55,308.72 257.10,342.93 257.50,304.98 257.76,339.65 257.94,305.42 258.56,334.78 259.09,301.19 259.32,329.89 259.89,290.82 260.19,340.62 260.66,297.18 260.98,346.43 261.23,299.87 261.46,342.80 261.64,311.38 261.82,340.53 262.00,311.26 262.18,335.74 262.76,314.49 263.17,340.77 263.37,311.18 263.78,332.96 264.21,306.28 264.61,337.59 264.85,302.58 265.22,341.14 265.81,314.57 266.15,340.87 266.55,304.23 267.18,327.69 267.44,305.52 267.96,334.50 268.35,302.93 268.90,328.54 269.22,293.06 269.65,326.24 269.98,300.44 270.57,338.97 271.18,295.21 271.65,328.58 272.30,288.15 272.82,322.99 273.39,293.76 274.00,331.28 274.28,300.54 274.93,326.99 275.28,305.38 275.68,336.74 275.91,302.62 276.48,334.35 276.79,304.72 277.29,339.75 277.54,311.26 277.87,337.68 278.21,312.82 278.47,331.80 278.63,310.72 279.17,335.69 279.80,301.47 280.06,338.46 280.28,301.47 280.60,350.03 280.79,308.38 281.27,343.75 281.60,308.93 282.03,337.14 282.64,308.68 283.23,339.84 283.85,306.72 284.47,338.10 284.92,301.41 285.32,348.74 285.48,295.25 285.68,340.94 286.09,297.59 286.67,334.15 287.04,293.53 287.18,325.74 287.43,285.66 287.97,325.91 288.19,285.66 288.43,334.79 288.72,292.21 289.18,340.28 289.75,303.29 290.01,338.62 290.46,304.79 290.87,328.58 291.24,300.86 291.69,323.18 292.25,296.52 292.50,320.24 292.90,295.30 293.09,323.93 293.50,290.38 294.05,331.61 294.71,302.37 295.10,328.66 295.39,291.80 295.83,324.36 296.17,299.73 296.37,330.93 296.78,291.15 297.33,327.03 297.94,286.28 298.59,324.12 298.92,287.17 299.19,324.28 299.39,295.01 299.75,321.63 300.31,291.99 300.57,328.44 301.16,300.70 301.67,323.50 301.91,301.56 302.38,323.30 302.95,297.79 303.57,334.92 303.80,298.14 304.36,336.31 304.91,294.46 305.17,322.21 305.47,292.18 306.10,328.44 306.43,276.34 306.72,329.39 307.24,285.88 307.45,325.17 307.84,281.96 308.16,332.90 308.59,290.20 309.04,324.42 309.51,291.98 309.88,320.72 310.48,301.35 311.05,330.47 311.68,296.40 312.05,332.35 312.57,288.31 312.93,338.75 313.22,284.28 313.70,322.27 314.33,297.52 314.89,328.17 315.18,287.01 315.44,320.63 315.98,288.92 316.48,335.24 317.07,297.51 317.29,325.23 317.88,292.41 318.24,333.74 318.52,299.81 318.84,335.15 319.50,292.80 320.14,322.04 320.32,288.66 320.62,315.67 321.14,289.41 321.30,314.32 321.45,285.55 321.62,314.28 322.21,281.29 322.52,309.53 322.83,290.47 323.38,314.35 323.69,291.95 324.21,319.47 324.54,294.56 324.84,323.12 325.18,294.52 325.41,329.82 325.59,298.90 326.18,320.46 326.77,294.16 327.15,316.31 327.65,280.26 328.24,313.02 328.58,283.07 329.09,315.58 329.62,282.45 329.80,308.82 330.01,271.61 330.54,312.40 331.05,277.79 331.29,317.16 331.86,283.42 332.41,321.32 332.73,286.24 333.04,318.97 333.24,291.29 333.61,315.18 333.81,285.01 334.23,323.73 334.70,282.01 335.14,327.69 335.32,292.23 335.78,315.43 336.31,282.73 336.53,318.05 336.98,291.18 337.54,316.15 337.78,285.89 338.40,323.22 339.04,292.57 339.55,325.17 340.15,292.18 340.43,314.73 340.91,295.01 341.53,314.35 341.70,292.73 342.26,315.96 342.53,289.22 343.08,317.54 343.56,280.76 344.12,323.63 344.46,277.16 344.84,312.60 345.46,279.65 345.64,318.43 345.86,289.83 346.50,316.87 347.12,292.73 347.33,326.22 347.98,295.92 348.26,330.02 348.86,299.58 349.47,334.02 349.62,302.62 349.77,336.37 350.08,300.62 350.70,329.30 351.26,297.13 351.60,323.96 352.18,282.89 352.48,330.45 352.80,297.98 353.04,331.87 353.68,289.49 354.24,327.24 354.62,298.90 354.90,334.25 355.54,287.53 355.89,319.80 356.14,283.82 356.50,328.25 357.01,285.65 357.55,321.04 357.75,273.45 358.38,324.01 358.87,282.25 359.04,324.16 359.62,287.61 360.26,317.27 360.84,296.83 360.98,324.13 361.37,287.00 361.82,323.01 362.42,297.02 362.82,331.71 363.00,300.51 363.63,327.01 364.26,310.00 364.65,333.49 364.82,311.22 365.40,334.60 365.92,311.65 366.57,345.88 366.71,309.93 367.08,343.21 367.37,306.18 367.56,341.41 368.08,304.15 368.40,329.79 368.56,301.43 368.77,332.20 369.33,291.02 369.79,337.54 370.04,299.11 370.54,327.00 370.75,297.60 371.24,330.31 371.72,306.57 371.86,338.58 372.27,313.18 372.78,341.43 373.32,311.20 373.83,335.42 374.43,318.04 374.96,340.13 375.58,311.37 375.93,342.41 376.09,312.71 376.33,345.67 376.62,304.92 376.78,337.41 376.97,308.79 377.38,346.02 377.65,306.78 377.94,340.14 378.47,308.81 379.05,334.94 379.64,302.63 379.97,326.73 380.48,293.59 381.07,329.02 381.29,301.58 381.53,335.79 382.01,306.53 382.28,329.04 382.52,308.31 382.86,325.09 383.00,304.00 383.37,328.36 383.54,299.70 383.80,325.65 384.06,300.37 384.37,330.56 384.57,295.15 384.96,334.74 385.46,301.77 385.77,333.14 386.39,297.57 386.98,330.01 387.28,294.17 387.44,329.17 387.98,295.62 388.25,331.54 388.56,298.30 389.00,327.96 389.66,288.53 389.95,333.20 390.34,298.79 390.80,338.76 391.30,302.43 391.55,342.17 392.00,299.84 392.42,337.08 392.90,302.89 393.10,332.13 393.31,293.24 393.96,326.12 394.52,305.84 395.10,335.76 395.72,304.82 396.36,331.60 396.70,302.48 397.24,322.47 397.71,297.06 398.14,329.53 398.64,306.67 398.94,333.76 399.53,308.18 399.88,327.14 400.10,308.95 400.24,331.78 400.72,300.20 400.98,326.57 401.61,300.06 401.86,331.54 402.16,307.67 402.81,325.78 403.22,295.40 403.84,336.05 404.39,308.72 404.59,333.67 404.84,311.42 405.18,338.29 405.78,313.38 406.09,347.93 406.48,308.70 406.87,337.87 407.17,314.29 407.72,343.97 407.89,319.16 408.15,344.83 408.72,320.85 409.18,347.25 409.59,306.59 409.92,354.38 410.13,304.55 410.50,346.77 411.16,312.55 411.61,364.11 412.05,303.64 412.70,339.47 413.30,313.51 413.96,351.34 414.60,324.31 415.08,344.67 415.38,323.49 415.85,344.40 416.17,317.98 416.73,353.11 416.94,317.86 417.32,343.81 417.90,309.67 418.28,338.40 418.73,304.22 418.92,335.74 419.21,312.18 419.84,341.46 420.33,315.12 420.66,344.75 421.06,326.08 421.61,340.56 422.16,329.45 422.73,346.07 423.02,328.83 423.28,348.66 423.75,323.07 424.17,340.42 424.60,316.14 424.85,344.55 425.16,306.33 425.69,350.50 426.02,311.17 426.55,344.89 426.72,312.42 427.35,343.13 427.60,320.98 427.99,349.69 428.61,317.73 428.88,342.94 429.14,313.26 429.79,342.65 430.40,301.71 430.81,336.78 430.99,301.71 431.44,342.11 431.71,308.93 431.96,343.86 432.59,313.93 433.05,356.58 433.42,307.91 433.59,347.35 433.93,310.15 434.52,344.81 434.81,313.87 435.12,345.38 435.58,318.08 435.85,338.72 436.28,314.56 436.82,341.65 437.11,310.60 437.49,346.65 437.93,304.54 438.26,340.78 438.52,302.39 438.72,340.87 439.15,297.88 439.78,345.78 439.93,310.09 440.52,352.46 441.16,318.31 441.58,346.18 442.22,323.88 442.73,346.40 443.15,323.76 443.53,363.34 443.92,332.93 444.41,372.25 444.67,334.91 445.19,356.76 445.58,326.37 446.07,357.49 446.70,325.45 446.96,360.06 447.31,312.37 447.60,361.38 447.76,327.52 448.23,367.95 448.69,319.78 449.35,352.40 449.81,329.86 450.15,356.80 450.76,329.95 450.91,351.50 451.21,331.99 451.74,360.45 451.96,330.39 452.29,359.70 452.87,330.01 453.19,366.08 453.46,324.22 454.06,364.37 454.24,328.32 454.82,362.43 455.13,342.95 455.38,369.98 455.77,341.37 456.16,362.09 456.80,346.21 457.33,355.07 457.71,344.40 458.14,352.77 458.45,345.95 459.10,354.49 459.44,340.86 460.04,351.91 460.52,327.74 461.14,353.53 461.46,334.30 461.82,356.84 462.15,342.51 462.72,360.92 463.36,348.85 463.93,362.50 464.30,348.47 464.87,367.19 465.39,330.45 465.80,367.52 466.04,338.26 466.30,368.42 466.81,339.00 467.05,373.59 467.48,327.89 468.04,370.86 468.52,336.21 468.98,367.38 469.25,329.94 469.45,366.74 469.61,334.02 469.78,364.63 470.04,337.55 470.47,361.45 470.83,339.63 471.07,359.59 471.37,337.49 471.75,362.98 472.31,320.25 472.79,372.28 472.95,333.82 473.34,363.05 473.58,332.56 474.16,367.82 474.76,337.67 475.19,364.80 475.71,339.21 476.21,378.60 476.77,340.34 477.06,374.59 477.32,331.67 477.85,367.47 478.48,347.20 478.74,368.86 479.18,348.79 479.60,375.38 479.94,350.60 480.47,380.00 480.67,354.99 481.01,376.43 481.37,356.27 482.01,385.72 482.50,356.81 483.01,379.99 483.67,358.91 483.93,373.69 484.38,350.35 484.58,369.87 484.81,353.63 485.31,367.85 485.88,350.06 486.35,365.66 486.79,334.07 487.34,370.54 487.98,339.02 488.60,366.36 489.16,350.92 489.52,365.59 490.06,343.84 490.32,367.08 490.93,351.54 491.22,374.93 491.87,345.97 492.17,380.95 492.44,349.92 492.76,372.62 493.15,349.20 493.39,373.25 493.67,355.16 494.27,383.13 494.90,356.86 495.12,379.92 495.49,363.89 495.84,383.91 496.42,359.31 496.90,380.26 497.25,353.71 497.80,390.39 498.26,355.53 498.50,384.42 499.06,349.22 499.44,378.61 500.04,341.67 500.53,380.96 500.74,344.03 501.28,371.56 501.72,350.78 502.14,368.25 502.50,347.61 502.98,368.49 503.16,341.42 503.56,368.31 504.19,331.56 504.43,375.00 504.64,336.76 505.00,369.61 505.41,342.72 505.74,371.33 506.14,343.35 506.63,372.57 507.18,344.07 507.35,373.49 507.68,348.56 508.15,377.98 508.30,342.42 508.93,383.89 509.40,339.38 509.80,394.22 510.17,341.39 510.39,385.53 510.56,348.25 511.05,391.45 511.67,356.11 512.23,388.47 512.38,347.27 512.54,389.01 512.94,353.71 513.38,398.47 513.84,370.89 514.43,402.98 515.04,377.27 515.69,394.94 516.01,380.23 516.39,397.56 517.05,378.02 517.55,396.00 517.72,376.91 518.34,396.64 518.80,371.33 519.04,403.04 519.36,380.53 519.80,401.34 520.28,379.30 520.63,397.18 521.16,374.77 521.58,393.03 522.22,369.58 522.81,387.62 523.02,361.25 523.22,389.55 523.80,368.86 524.26,398.01 524.90,365.82 525.27,386.34 525.50,358.22 525.66,387.48 526.20,360.19 526.39,386.63 526.86,348.58 527.29,382.03 527.82,357.89 528.45,379.90 528.71,352.83 529.10,373.75 529.64,347.56 529.88,373.11 530.07,353.70 530.28,375.86 530.90,351.68 531.45,386.34 531.70,352.94 531.85,380.23 532.32,353.35 532.63,389.19 532.89,353.10 533.13,390.93 533.51,352.57 533.83,386.57 534.46,347.74 534.90,393.61 535.50,350.92 536.12,395.29 536.73,351.45 537.13,384.42 537.57,349.57 537.99,387.35 538.14,360.77 538.78,389.37 538.99,353.90 539.42,391.75 539.92,359.05 540.47,384.70 540.89,353.80 541.36,384.57" fill="none" stroke="#0072BD" stroke-width="0.75" stroke-opacity="1" stroke-linejoin="round"/>
<text x="290.5" y="472.65" class="lab">min</text>
<text x="520.6" y="474.75" class="ex"><tspan font-size="9.8" style="stroke-width:0.15px">×</tspan>10<tspan dx="0.9" dy="-3.9" font-size="6.6">5</tspan></text>
<text x="0" y="0" class="lab" transform="translate(17.0,353.18) rotate(-90)">T (°C)</text>
<text x="289.2" y="254.00" class="tt">T&#160;&#160;(°C) minutes measurements</text>
</svg>
</body></html>
